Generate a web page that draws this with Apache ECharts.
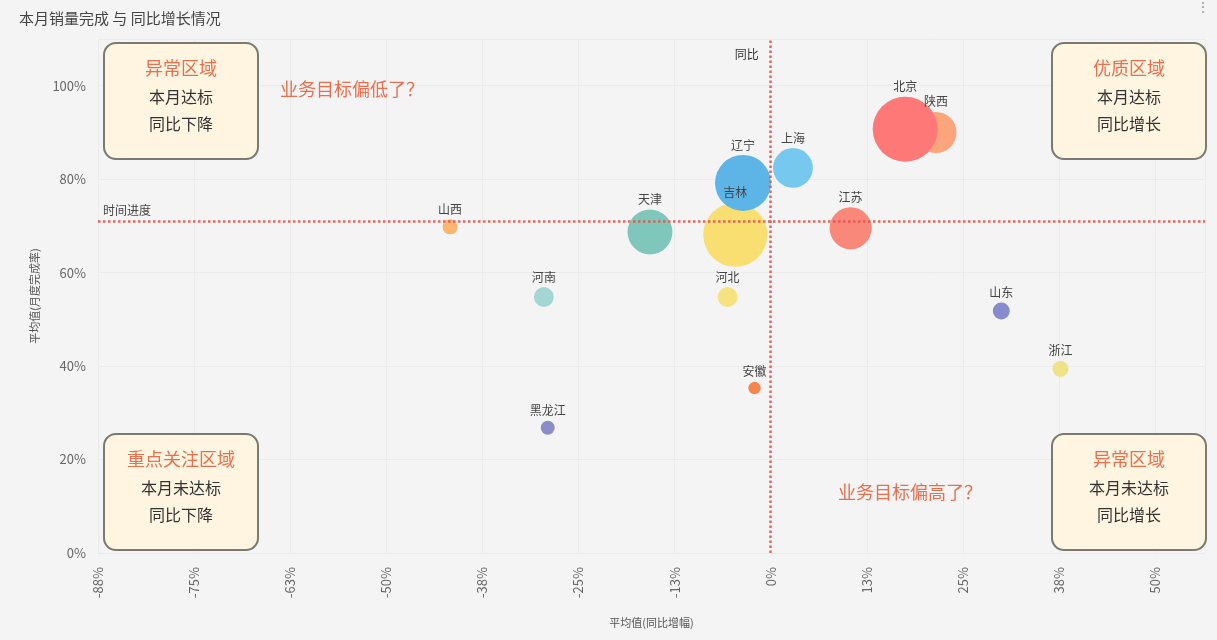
<!DOCTYPE html>
<html>
<head>
<meta charset="utf-8">
<title>本月销量完成 与 同比增长情况</title>
<script src="https://cdn.jsdelivr.net/npm/echarts@6/dist/echarts.min.js"></script>
<style>
  html, body { margin: 0; padding: 0; background: #f4f4f4; }
  #chart { width: 1217px; height: 640px; }
</style>
</head>
<body>
<div id="chart"></div>
<script>
// 省份数据（绘制顺序：后画的在上面）
const provinces = ['陕西', '北京', '吉林', '辽宁', '上海', '天津', '江苏', '山西', '河南', '河北', '安徽', '黑龙江', '山东', '浙江'];
const yoyGrowth = [0.215, 0.175, -0.046, -0.036, 0.029, -0.157, 0.104, -0.417, -0.295, -0.056, -0.021, -0.290, 0.300, 0.377];
const completion = [0.900, 0.907, 0.681, 0.792, 0.824, 0.687, 0.695, 0.698, 0.548, 0.548, 0.353, 0.268, 0.518, 0.394];
const salesVolume = [47, 117, 114, 87, 44, 56, 49, 6.3, 11, 11, 4.3, 5.4, 8, 7.1];

// 参考线
const timeProgress = 0.71;
const yoyBaseline = 0;

const palette = ['#fca47c', '#ff7878', '#f9de72', '#5cb5e6', '#76c8ef', '#80c7bb', '#fa887a',
  '#fdb671', '#a4d6d3', '#f6e27e', '#f5854f', '#8c8cc7', '#868bcd', '#efe287'];

const FONT = '"Noto Sans CJK SC", "Noto Sans", sans-serif';
const ORANGE = '#e8704f';

const chart = echarts.init(document.getElementById('chart'));

const pct = v => (v * 100).toFixed(0) + '%';

// 四个区域说明框
const zoneBox = (left, top, title, line1, line2) => ({
  type: 'group',
  left: left,
  top: top,
  z: 100,
  children: [
    {
      type: 'rect',
      z: 100,
      shape: { x: 0, y: 0, width: 154, height: 116, r: 12 },
      style: { fill: '#fff5e1', stroke: '#7a7a72', lineWidth: 2 }
    },
    {
      type: 'text', x: 77, y: 16, z: 101,
      style: { text: title, fill: ORANGE, font: '18px ' + FONT, align: 'center' }
    },
    {
      type: 'text', x: 77, y: 46, z: 101,
      style: { text: line1, fill: '#333', font: '16px ' + FONT, align: 'center' }
    },
    {
      type: 'text', x: 77, y: 73, z: 101,
      style: { text: line2, fill: '#333', font: '16px ' + FONT, align: 'center' }
    }
  ]
});

const option = {
  backgroundColor: '#f4f4f4',
  textStyle: { fontFamily: FONT },
  title: {
    text: '本月销量完成 与 同比增长情况',
    left: 14,
    top: 6,
    textStyle: { fontSize: 15, fontWeight: 'normal', color: '#444' }
  },
  grid: { left: 98, right: 12, top: 39, bottom: 87 },
  xAxis: {
    type: 'value',
    min: -0.875,
    max: 0.565,
    interval: 0.125,
    name: '平均值(同比增幅)',
    nameLocation: 'middle',
    nameGap: 64,
    nameTextStyle: { fontSize: 11, color: '#555' },
    axisLine: { show: false },
    axisTick: { show: false },
    axisLabel: { rotate: 90, margin: 14, color: '#666', fontSize: 13, formatter: pct, showMaxLabel: false },
    splitLine: { lineStyle: { color: '#ebebeb' } }
  },
  yAxis: {
    type: 'value',
    min: 0,
    max: 1.1,
    interval: 0.2,
    name: '平均值(月度完成率)',
    nameLocation: 'middle',
    nameGap: 58,
    nameTextStyle: { fontSize: 11, color: '#555' },
    axisLine: { show: false },
    axisTick: { show: false },
    axisLabel: { margin: 12, color: '#666', fontSize: 13, formatter: pct, showMaxLabel: false },
    splitLine: { lineStyle: { color: '#ebebeb' } }
  },
  series: [
    {
      type: 'scatter',
      data: provinces.map((p, i) => ({
        name: p,
        value: [yoyGrowth[i], completion[i], salesVolume[i]],
        itemStyle: { color: palette[i] }
      })),
      symbolSize: v => Math.sqrt(v[2]) * 6,
      itemStyle: { opacity: 1 },
      label: {
        show: true,
        position: 'top',
        distance: 4,
        formatter: '{b}',
        color: '#444',
        fontSize: 12
      },
      markLine: {
        silent: true,
        symbol: 'none',
        z: 10,
        lineStyle: { type: 'dotted', color: '#e8544a', width: 2.5, opacity: 0.9 },
        data: [
          {
            yAxis: timeProgress,
            label: { show: true, position: 'insideStartTop', formatter: '时间进度', color: '#333', fontSize: 12 }
          },
          { xAxis: yoyBaseline, label: { show: false } }
        ]
      },
      markPoint: {
        silent: true,
        symbolSize: 0,
        data: [
          { coord: [-0.031, 1.066], label: { show: true, formatter: '同比', color: '#333', fontSize: 12 } }
        ]
      }
    }
  ],
  graphic: [
    zoneBox(103, 42, '异常区域', '本月达标', '同比下降'),
    zoneBox(1051, 42, '优质区域', '本月达标', '同比增长'),
    zoneBox(103, 433, '重点关注区域', '本月未达标', '同比下降'),
    zoneBox(1051, 433, '异常区域', '本月未达标', '同比增长'),
    {
      type: 'text', left: 280, top: 80, z: 100,
      style: { text: '业务目标偏低了？', fill: ORANGE, font: '18px ' + FONT }
    },
    {
      type: 'text', left: 838, top: 483, z: 100,
      style: { text: '业务目标偏高了？', fill: ORANGE, font: '18px ' + FONT }
    },
    {
      type: 'text', left: 1196, top: 0, z: 100,
      style: { text: '⋮', fill: '#999', font: '14px ' + FONT }
    }
  ]
};

chart.setOption(option);
window.addEventListener('resize', () => chart.resize());
</script>
</body>
</html>
